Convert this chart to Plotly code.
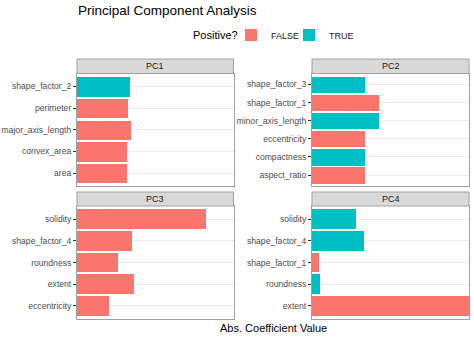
import plotly.graph_objects as go

W, H = 474, 338

panels = ["PC1", "PC2", "PC3", "PC4"]
pc1_vars = ["shape_factor_2", "perimeter", "major_axis_length", "convex_area", "area"]
pc1_vals = [0.239, 0.229, 0.241, 0.224, 0.224]
pc1_pos = [True, False, False, False, False]
pc2_vars = ["shape_factor_3", "shape_factor_1", "minor_axis_length", "eccentricity", "compactness", "aspect_ratio"]
pc2_vals = [0.236, 0.300, 0.299, 0.236, 0.236, 0.236]
pc2_pos = [True, False, True, False, True, False]
pc3_vars = ["solidity", "shape_factor_4", "roundness", "extent", "eccentricity"]
pc3_vals = [0.578, 0.247, 0.184, 0.257, 0.141]
pc3_pos = [False, False, False, False, False]
pc4_vars = ["solidity", "shape_factor_4", "shape_factor_1", "roundness", "extent"]
pc4_vals = [0.195, 0.232, 0.033, 0.037, 0.700]
pc4_pos = [True, True, False, True, False]

data = [(pc1_vars, pc1_vals, pc1_pos), (pc2_vars, pc2_vals, pc2_pos),
        (pc3_vars, pc3_vals, pc3_pos), (pc4_vars, pc4_vals, pc4_pos)]

COL = {False: "#F8766D", True: "#00BFC4"}
LEG = {False: "legend", True: "legend2"}
FONT = "Liberation Sans, Arial, Helvetica, sans-serif"
XMAX = 0.700

# panel pixel geometry (left, right, strip_top, body_top, body_bottom)
geo = [(77, 233.5, 59, 73.5, 186), (312, 469, 59, 73.5, 186),
       (77, 233.5, 192, 206, 319), (312, 469, 192, 206, 319)]

fig = go.Figure()
shown = set()
shapes = []
annotations = []
for i, (vars_, vals, pos) in enumerate(data):
    xa = "x" if i == 0 else f"x{i+1}"
    ya = "y" if i == 0 else f"y{i+1}"
    for flag in (False, True):
        ys = [v for v, p in zip(vars_, pos) if p == flag]
        xs = [x for x, p in zip(vals, pos) if p == flag]
        if not ys:
            continue
        fig.add_trace(go.Bar(
            x=xs, y=ys, orientation="h", width=0.9,
            marker=dict(color=COL[flag], line=dict(width=0)),
            name=str(flag).upper(), legendgroup=str(flag), legend=LEG[flag],
            showlegend=flag not in shown, xaxis=xa, yaxis=ya,
            hoverinfo="x+y"))
        shown.add(flag)
    l, r, st, bt, bb = geo[i]
    n = len(vars_)
    xkey = "xaxis" if i == 0 else f"xaxis{i+1}"
    ykey = "yaxis" if i == 0 else f"yaxis{i+1}"
    fig.update_layout(**{
        xkey: dict(domain=[l / W, r / W], range=[0, XMAX], anchor=ya,
                   showticklabels=False, ticks="", showgrid=False, zeroline=False,
                   showline=True, mirror=True, linecolor="#A0A0A0", linewidth=1),
        ykey: dict(domain=[1 - bb / H, 1 - bt / H], anchor=xa, type="category",
                   categoryorder="array", categoryarray=list(reversed(vars_)),
                   range=[-0.6, n - 0.4], showgrid=True, gridcolor="#EBEBEB",
                   gridwidth=0.6, zeroline=False, ticks="outside", ticklen=3,
                   tickcolor="#333333", tickwidth=0.8,
                   tickfont=dict(size=8.6, color="#4D4D4D", family=FONT),
                   showline=True, mirror=True, linecolor="#A0A0A0", linewidth=1),
    })
    shapes.append(dict(type="rect", xref="paper", yref="paper",
                       x0=l / W, x1=r / W, y0=1 - bt / H, y1=1 - st / H,
                       fillcolor="#D9D9D9", line=dict(color="#A0A0A0", width=1),
                       layer="above"))
    annotations.append(dict(text=panels[i], xref="paper", yref="paper",
                            x=(l + r) / 2 / W, y=1 - (st + bt) / 2 / H,
                            showarrow=False, xanchor="center", yanchor="middle",
                            font=dict(size=9, color="#1A1A1A", family=FONT)))

annotations.append(dict(text="Principal Component Analysis", xref="paper", yref="paper",
                        x=76 / W, y=1 - 10 / H, showarrow=False, xanchor="left",
                        yanchor="middle", font=dict(size=13.5, color="black", family=FONT)))
annotations.append(dict(text="Abs. Coefficient Value", xref="paper", yref="paper",
                        x=273 / W, y=1 - 327.5 / H, showarrow=False, xanchor="center",
                        yanchor="middle", font=dict(size=11, color="black", family=FONT)))
annotations.append(dict(text="Positive?", xref="paper", yref="paper",
                        x=240 / W, y=1 - 35 / H, showarrow=False, xanchor="right",
                        yanchor="middle", font=dict(size=11, color="black", family=FONT)))

leg_common = dict(orientation="h", y=1 - 35 / H, xanchor="left", yanchor="middle",
                  font=dict(size=9, color="#1A1A1A"), itemwidth=30,
                  bgcolor="rgba(0,0,0,0)")
fig.update_layout(
    width=W, height=H, margin=dict(l=0, r=0, t=0, b=0),
    paper_bgcolor="white", plot_bgcolor="white",
    bargap=0, shapes=shapes, annotations=annotations,
    font=dict(family=FONT),
    legend=dict(x=231 / W, **leg_common),
    legend2=dict(x=289 / W, **leg_common),
)

fig.write_html("out.html")
